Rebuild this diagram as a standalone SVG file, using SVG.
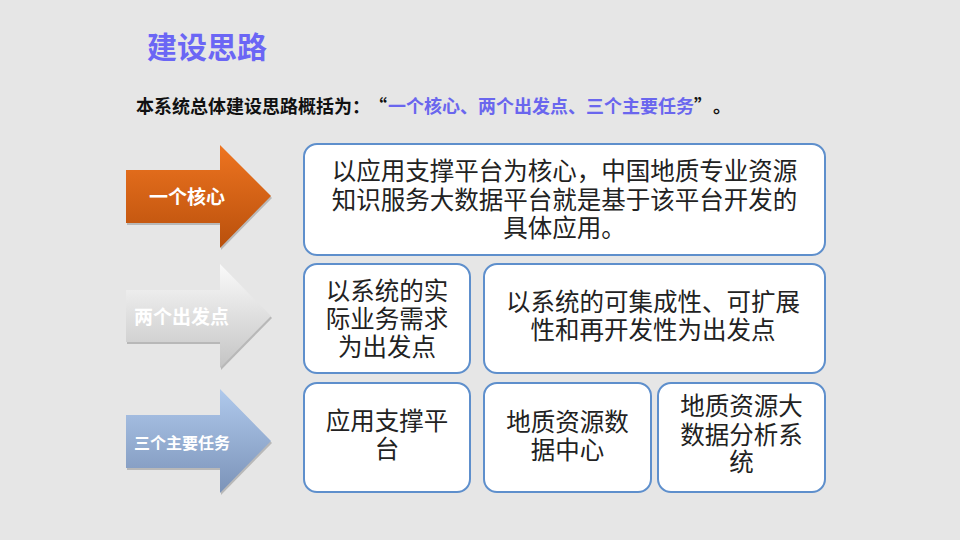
<svg xmlns="http://www.w3.org/2000/svg" width="960" height="540" viewBox="0 0 960 540">
<defs>
<linearGradient id="gOrange" x1="0" y1="0" x2="0" y2="1"><stop offset="0" stop-color="#ee7420"/><stop offset="1" stop-color="#b9500c"/></linearGradient>
<linearGradient id="gGray" x1="0" y1="0" x2="0" y2="1"><stop offset="0" stop-color="#fafafa"/><stop offset="1" stop-color="#c4c4c4"/></linearGradient>
<linearGradient id="gBlue" x1="0" y1="0" x2="0" y2="1"><stop offset="0" stop-color="#afc9ec"/><stop offset="1" stop-color="#7b93b8"/></linearGradient>
<style>
.t{font-family:"Noto Sans CJK SC","Noto Sans",sans-serif}
.box{fill:#ffffff;stroke:#5e8fcc;stroke-width:2}
.bt{font-family:"Noto Sans CJK SC",sans-serif;font-size:24.5px;fill:#222222;text-anchor:middle}
.at{font-family:"Noto Sans CJK SC",sans-serif;font-weight:bold;fill:#ffffff}
.sh{fill:#9a9a9a;opacity:0.6}
</style>
</defs>
<rect width="960" height="540" fill="#e6e6e6"/>
<text class="t" x="147" y="58" font-size="30" font-weight="bold" fill="#6b66f5">建设思路</text>
<text class="t" y="113" font-size="18" font-weight="bold" fill="#111"><tspan x="136">本系统总体建设思路概括为：</tspan><tspan x="387" text-anchor="end">“</tspan><tspan x="388" fill="#6a66ee">一个核心、两个出发点、三个主要任务</tspan><tspan x="694">”</tspan><tspan x="713">。</tspan></text>
<g id="arrow1">
<path class="sh" d="M127,172 H221 V147 L272,198 L221,250 V225 H127 Z"/>
<path d="M126,170 H220 V145 L271,196 L220,248 V223 H126 Z" fill="url(#gOrange)"/>
<text class="at" x="149" y="204" font-size="19">一个核心</text>
</g>
<g id="arrow2">
<path class="sh" d="M127,292 H221 V266 L272,318 L221,370 V344 H127 Z"/>
<path d="M126,290 H220 V264 L271,316 L220,368 V342 H126 Z" fill="url(#gGray)"/>
<text class="at" x="134" y="324" font-size="19">两个出发点</text>
</g>
<g id="arrow3">
<path class="sh" d="M127,417 H221 V391 L272,443 L221,495 V470 H127 Z"/>
<path d="M126,415 H220 V389 L271,441 L220,493 V468 H126 Z" fill="url(#gBlue)"/>
<text class="at" x="134" y="449" font-size="16">三个主要任务</text>
</g>
<g id="box1">
<rect class="box" x="304" y="144" width="521" height="111" rx="13"/>
<text class="bt" x="564.5" y="180" font-size="25">以应用支撑平台为核心，中国地质专业资源</text>
<text class="bt" x="564.5" y="209" font-size="25">知识服务大数据平台就是基于该平台开发的</text>
<text class="bt" x="564.5" y="237" font-size="25">具体应用。</text>
</g>
<g id="box2a">
<rect class="box" x="304" y="264" width="166" height="109" rx="13"/>
<text class="bt" x="387" y="300">以系统的实</text>
<text class="bt" x="387" y="328">际业务需求</text>
<text class="bt" x="387" y="356">为出发点</text>
</g>
<g id="box2b">
<rect class="box" x="484" y="264" width="341" height="109" rx="13"/>
<text class="bt" x="653" y="311">以系统的可集成性、可扩展</text>
<text class="bt" x="653" y="339">性和再开发性为出发点</text>
</g>
<g id="box3a">
<rect class="box" x="304" y="383" width="166" height="109" rx="13"/>
<text class="bt" x="387" y="430">应用支撑平</text>
<text class="bt" x="387" y="458">台</text>
</g>
<g id="box3b">
<rect class="box" x="484" y="383" width="167" height="109" rx="13"/>
<text class="bt" x="567.5" y="431">地质资源数</text>
<text class="bt" x="567.5" y="459">据中心</text>
</g>
<g id="box3c">
<rect class="box" x="658" y="383" width="167" height="109" rx="13"/>
<text class="bt" x="741.5" y="415">地质资源大</text>
<text class="bt" x="741.5" y="444">数据分析系</text>
<text class="bt" x="741.5" y="471">统</text>
</g>
<g id="connectors"/>
</svg>
